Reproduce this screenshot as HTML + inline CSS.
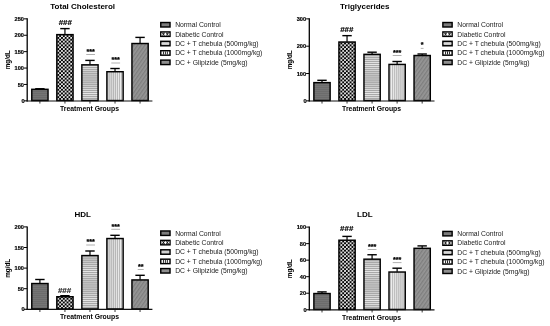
<!DOCTYPE html>
<html><head><meta charset="utf-8"><title>Lipid profile</title>
<style>html,body{margin:0;padding:0;background:#fff}svg{display:block}text{font-family:"Liberation Sans", Arial, sans-serif;fill:#000}</style>
</head><body>
<svg width="550" height="326" viewBox="0 0 550 326" style="filter:blur(0.3px)">
<rect width="550" height="326" fill="#fff"/>
<defs>
<pattern id="p1" width="2" height="2" patternUnits="userSpaceOnUse"><rect width="2" height="2" fill="#6c6c6c"/><rect width="2" height="1" fill="#757575"/></pattern>
<pattern id="p2" width="3.7" height="3.7" patternUnits="userSpaceOnUse"><rect width="3.7" height="3.7" fill="#000"/><circle cx="0.92" cy="0.92" r="1.0" fill="#fff"/><circle cx="2.77" cy="2.77" r="1.0" fill="#fff"/></pattern>
<pattern id="p3" width="4" height="2.07" patternUnits="userSpaceOnUse"><rect width="4" height="2.07" fill="#a8a8a8"/><rect width="4" height="0.7" fill="#e6e6e6"/></pattern>
<pattern id="p4" width="2.07" height="4" patternUnits="userSpaceOnUse"><rect width="2.07" height="4" fill="#b6b6b6"/><rect width="0.8" height="4" fill="#f4f4f4"/></pattern>
<pattern id="p5" width="4" height="3" patternUnits="userSpaceOnUse" patternTransform="rotate(-55)"><rect width="4" height="3" fill="#969696"/><rect width="4" height="1.3" fill="#7e7e7e"/></pattern>
</defs>
<g>
<text x="82.70" y="8.95" font-size="8.0" font-weight="bold" text-anchor="middle">Total Cholesterol</text>
<path d="M39.90 89.10V88.75" stroke="#000" stroke-width="1.2" fill="none"/>
<path d="M35.20 88.75H44.60" stroke="#000" stroke-width="1.4" fill="none"/>
<rect x="31.78" y="89.32" width="16.25" height="11.23" fill="url(#p1)" stroke="#000" stroke-width="1.45"/>
<path d="M39.90 100.85v2.7" stroke="#222" stroke-width="0.9"/>
<path d="M64.94 34.40V28.60" stroke="#000" stroke-width="1.2" fill="none"/>
<path d="M60.24 28.60H69.64" stroke="#000" stroke-width="1.4" fill="none"/>
<rect x="56.82" y="34.62" width="16.25" height="65.93" fill="url(#p2)" stroke="#000" stroke-width="1.45"/>
<path d="M64.94 100.85v2.7" stroke="#222" stroke-width="0.9"/>
<path d="M89.98 64.60V60.40" stroke="#000" stroke-width="1.2" fill="none"/>
<path d="M85.28 60.40H94.68" stroke="#000" stroke-width="1.4" fill="none"/>
<rect x="81.85" y="64.82" width="16.25" height="35.73" fill="url(#p3)" stroke="#000" stroke-width="1.45"/>
<path d="M89.98 100.85v2.7" stroke="#222" stroke-width="0.9"/>
<path d="M115.02 71.50V68.50" stroke="#000" stroke-width="1.2" fill="none"/>
<path d="M110.32 68.50H119.72" stroke="#000" stroke-width="1.4" fill="none"/>
<rect x="106.89" y="71.72" width="16.25" height="28.82" fill="url(#p4)" stroke="#000" stroke-width="1.45"/>
<path d="M115.02 100.85v2.7" stroke="#222" stroke-width="0.9"/>
<path d="M140.06 43.30V37.40" stroke="#000" stroke-width="1.2" fill="none"/>
<path d="M135.36 37.40H144.76" stroke="#000" stroke-width="1.4" fill="none"/>
<rect x="131.94" y="43.52" width="16.25" height="57.02" fill="url(#p5)" stroke="#000" stroke-width="1.45"/>
<path d="M140.06 100.85v2.7" stroke="#222" stroke-width="0.9"/>
<path d="M27.20 18.35V101.45" stroke="#000" stroke-width="1.3" fill="none"/>
<path d="M26.60 100.95H152.41" stroke="#111" stroke-width="1.15" fill="none"/>
<path d="M24.00 100.85H27.20" stroke="#000" stroke-width="1.0"/>
<text x="24.60" y="102.90" font-size="5.65" font-weight="bold" text-anchor="end" style="stroke:#000;stroke-width:0.18">0</text>
<path d="M24.00 84.45H27.20" stroke="#000" stroke-width="1.0"/>
<text x="24.00" y="86.50" font-size="5.65" font-weight="bold" text-anchor="end" style="stroke:#000;stroke-width:0.18">50</text>
<path d="M24.00 68.05H27.20" stroke="#000" stroke-width="1.0"/>
<text x="24.00" y="70.10" font-size="5.65" font-weight="bold" text-anchor="end" style="stroke:#000;stroke-width:0.18">100</text>
<path d="M24.00 51.65H27.20" stroke="#000" stroke-width="1.0"/>
<text x="24.00" y="53.70" font-size="5.65" font-weight="bold" text-anchor="end" style="stroke:#000;stroke-width:0.18">150</text>
<path d="M24.00 35.25H27.20" stroke="#000" stroke-width="1.0"/>
<text x="24.00" y="37.30" font-size="5.65" font-weight="bold" text-anchor="end" style="stroke:#000;stroke-width:0.18">200</text>
<path d="M24.00 18.85H27.20" stroke="#000" stroke-width="1.0"/>
<text x="24.00" y="20.90" font-size="5.65" font-weight="bold" text-anchor="end" style="stroke:#000;stroke-width:0.18">250</text>
<text transform="translate(10.00 59.85) rotate(-90)" font-size="6.3" font-weight="bold" text-anchor="middle">mg/dL</text>
<text x="89.50" y="110.75" font-size="6.85" font-weight="bold" text-anchor="middle">Treatment Groups</text>
<text x="65.34" y="25.00" font-size="7.95" font-weight="bold" text-anchor="middle" style="fill:#000;stroke:#000;stroke-width:0.2">###</text>
<text x="90.63" y="53.50" font-size="7.2" font-weight="bold" text-anchor="middle" style="fill:#000;stroke:#000;stroke-width:0.25">***</text>
<path d="M86.23 54.50H95.03" stroke="#a8a8a8" stroke-width="0.9"/>
<text x="115.67" y="61.70" font-size="7.2" font-weight="bold" text-anchor="middle" style="fill:#000;stroke:#000;stroke-width:0.25">***</text>
<path d="M111.27 63.00H120.07" stroke="#a8a8a8" stroke-width="0.9"/>
<rect x="160.77" y="22.53" width="9.25" height="4.45" fill="#7c7c7c" stroke="#000" stroke-width="1.45"/>
<text x="175.15" y="27.15" font-size="6.8" style="fill:#222">Normal Control</text>
<rect x="160.77" y="31.93" width="9.25" height="4.45" fill="#fff" stroke="#000" stroke-width="1.45"/>
<rect x="161.50" y="32.65" width="7.80" height="3.00" fill="#000"/>
<path d="M161.50 32.65L163.10 34.15L161.50 35.65ZM165.40 32.45L166.95 34.15L165.40 35.85L163.85 34.15ZM169.30 32.65L167.70 34.15L169.30 35.65Z" fill="#fff"/>
<path d="M162.00 32.65L163.45 33.70L164.90 32.65ZM162.00 35.65L163.45 34.60L164.90 35.65ZM165.90 32.65L167.35 33.70L168.80 32.65ZM165.90 35.65L167.35 34.60L168.80 35.65Z" fill="#fff" opacity="0.4"/>
<text x="175.15" y="36.55" font-size="6.8" style="fill:#222">Diabetic Control</text>
<rect x="160.77" y="41.32" width="9.25" height="4.45" fill="#c6c6c6" stroke="#000" stroke-width="1.45"/>
<path d="M161.50 43.55h7.80" stroke="#e2e2e2" stroke-width="0.7"/>
<text x="175.15" y="45.95" font-size="6.8" style="fill:#222">DC + T chebula (500mg/kg)</text>
<rect x="160.77" y="50.73" width="9.25" height="4.45" fill="#fff" stroke="#000" stroke-width="1.45"/>
<path d="M163.45 51.45v3.00M165.40 51.45v3.00M167.35 51.45v3.00" stroke="#000" stroke-width="0.85" fill="none"/>
<text x="175.15" y="55.35" font-size="6.8" style="fill:#222">DC + T chebula (1000mg/kg)</text>
<rect x="160.77" y="60.12" width="9.25" height="4.45" fill="#8e8e8e" stroke="#000" stroke-width="1.45"/>
<text x="175.15" y="64.75" font-size="6.8" style="fill:#222">DC + Glipizide (5mg/kg)</text>
</g>
<g>
<text x="364.80" y="8.95" font-size="8.0" font-weight="bold" text-anchor="middle">Triglycerides</text>
<path d="M322.00 82.40V80.30" stroke="#000" stroke-width="1.2" fill="none"/>
<path d="M317.30 80.30H326.70" stroke="#000" stroke-width="1.4" fill="none"/>
<rect x="313.88" y="82.62" width="16.25" height="17.92" fill="url(#p1)" stroke="#000" stroke-width="1.45"/>
<path d="M322.00 100.85v2.7" stroke="#222" stroke-width="0.9"/>
<path d="M347.04 41.80V35.65" stroke="#000" stroke-width="1.2" fill="none"/>
<path d="M342.34 35.65H351.74" stroke="#000" stroke-width="1.4" fill="none"/>
<rect x="338.92" y="42.02" width="16.25" height="58.52" fill="url(#p2)" stroke="#000" stroke-width="1.45"/>
<path d="M347.04 100.85v2.7" stroke="#222" stroke-width="0.9"/>
<path d="M372.08 54.10V52.20" stroke="#000" stroke-width="1.2" fill="none"/>
<path d="M367.38 52.20H376.78" stroke="#000" stroke-width="1.4" fill="none"/>
<rect x="363.96" y="54.33" width="16.25" height="46.22" fill="url(#p3)" stroke="#000" stroke-width="1.45"/>
<path d="M372.08 100.85v2.7" stroke="#222" stroke-width="0.9"/>
<path d="M397.12 64.20V61.50" stroke="#000" stroke-width="1.2" fill="none"/>
<path d="M392.42 61.50H401.82" stroke="#000" stroke-width="1.4" fill="none"/>
<rect x="389.00" y="64.42" width="16.25" height="36.12" fill="url(#p4)" stroke="#000" stroke-width="1.45"/>
<path d="M397.12 100.85v2.7" stroke="#222" stroke-width="0.9"/>
<path d="M422.16 55.30V54.00" stroke="#000" stroke-width="1.2" fill="none"/>
<path d="M417.46 54.00H426.86" stroke="#000" stroke-width="1.4" fill="none"/>
<rect x="414.04" y="55.52" width="16.25" height="45.02" fill="url(#p5)" stroke="#000" stroke-width="1.45"/>
<path d="M422.16 100.85v2.7" stroke="#222" stroke-width="0.9"/>
<path d="M309.30 18.36V101.45" stroke="#000" stroke-width="1.3" fill="none"/>
<path d="M308.70 100.95H434.51" stroke="#111" stroke-width="1.15" fill="none"/>
<path d="M306.10 100.85H309.30" stroke="#000" stroke-width="1.0"/>
<text x="306.70" y="102.90" font-size="5.65" font-weight="bold" text-anchor="end" style="stroke:#000;stroke-width:0.18">0</text>
<path d="M306.10 73.52H309.30" stroke="#000" stroke-width="1.0"/>
<text x="306.10" y="75.57" font-size="5.65" font-weight="bold" text-anchor="end" style="stroke:#000;stroke-width:0.18">100</text>
<path d="M306.10 46.19H309.30" stroke="#000" stroke-width="1.0"/>
<text x="306.10" y="48.24" font-size="5.65" font-weight="bold" text-anchor="end" style="stroke:#000;stroke-width:0.18">200</text>
<path d="M306.10 18.86H309.30" stroke="#000" stroke-width="1.0"/>
<text x="306.10" y="20.91" font-size="5.65" font-weight="bold" text-anchor="end" style="stroke:#000;stroke-width:0.18">300</text>
<text transform="translate(292.10 59.85) rotate(-90)" font-size="6.3" font-weight="bold" text-anchor="middle">mg/dL</text>
<text x="371.60" y="110.75" font-size="6.85" font-weight="bold" text-anchor="middle">Treatment Groups</text>
<text x="346.79" y="32.00" font-size="7.95" font-weight="bold" text-anchor="middle" style="fill:#000;stroke:#000;stroke-width:0.2">###</text>
<text x="397.12" y="55.00" font-size="7.2" font-weight="bold" text-anchor="middle" style="fill:#000;stroke:#000;stroke-width:0.25">***</text>
<path d="M392.72 55.50H401.52" stroke="#a8a8a8" stroke-width="0.9"/>
<text x="422.16" y="47.30" font-size="7.2" font-weight="bold" text-anchor="middle" style="fill:#000;stroke:#000;stroke-width:0.25">*</text>
<path d="M420.76 48.40H423.56" stroke="#a8a8a8" stroke-width="0.9"/>
<rect x="442.88" y="22.53" width="9.25" height="4.45" fill="#7c7c7c" stroke="#000" stroke-width="1.45"/>
<text x="457.25" y="27.15" font-size="6.8" style="fill:#222">Normal Control</text>
<rect x="442.88" y="31.93" width="9.25" height="4.45" fill="#fff" stroke="#000" stroke-width="1.45"/>
<rect x="443.60" y="32.65" width="7.80" height="3.00" fill="#000"/>
<path d="M443.60 32.65L445.20 34.15L443.60 35.65ZM447.50 32.45L449.05 34.15L447.50 35.85L445.95 34.15ZM451.40 32.65L449.80 34.15L451.40 35.65Z" fill="#fff"/>
<path d="M444.10 32.65L445.55 33.70L447.00 32.65ZM444.10 35.65L445.55 34.60L447.00 35.65ZM448.00 32.65L449.45 33.70L450.90 32.65ZM448.00 35.65L449.45 34.60L450.90 35.65Z" fill="#fff" opacity="0.4"/>
<text x="457.25" y="36.55" font-size="6.8" style="fill:#222">Diabetic Control</text>
<rect x="442.88" y="41.32" width="9.25" height="4.45" fill="#c6c6c6" stroke="#000" stroke-width="1.45"/>
<path d="M443.60 43.55h7.80" stroke="#e2e2e2" stroke-width="0.7"/>
<text x="457.25" y="45.95" font-size="6.8" style="fill:#222">DC + T chebula (500mg/kg)</text>
<rect x="442.88" y="50.73" width="9.25" height="4.45" fill="#fff" stroke="#000" stroke-width="1.45"/>
<path d="M445.55 51.45v3.00M447.50 51.45v3.00M449.45 51.45v3.00" stroke="#000" stroke-width="0.85" fill="none"/>
<text x="457.25" y="55.35" font-size="6.8" style="fill:#222">DC + T chebula (1000mg/kg)</text>
<rect x="442.88" y="60.12" width="9.25" height="4.45" fill="#8e8e8e" stroke="#000" stroke-width="1.45"/>
<text x="457.25" y="64.75" font-size="6.8" style="fill:#222">DC + Glipizide (5mg/kg)</text>
</g>
<g>
<text x="82.70" y="217.40" font-size="8.0" font-weight="bold" text-anchor="middle">HDL</text>
<path d="M39.90 283.30V279.50" stroke="#000" stroke-width="1.2" fill="none"/>
<path d="M35.20 279.50H44.60" stroke="#000" stroke-width="1.4" fill="none"/>
<rect x="31.78" y="283.53" width="16.25" height="25.47" fill="url(#p1)" stroke="#000" stroke-width="1.45"/>
<path d="M39.90 309.30v2.7" stroke="#222" stroke-width="0.9"/>
<path d="M64.94 296.50V295.70" stroke="#000" stroke-width="1.2" fill="none"/>
<path d="M60.24 295.70H69.64" stroke="#000" stroke-width="1.4" fill="none"/>
<rect x="56.82" y="296.73" width="16.25" height="12.28" fill="url(#p2)" stroke="#000" stroke-width="1.45"/>
<path d="M64.94 309.30v2.7" stroke="#222" stroke-width="0.9"/>
<path d="M89.98 255.35V251.00" stroke="#000" stroke-width="1.2" fill="none"/>
<path d="M85.28 251.00H94.68" stroke="#000" stroke-width="1.4" fill="none"/>
<rect x="81.85" y="255.57" width="16.25" height="53.43" fill="url(#p3)" stroke="#000" stroke-width="1.45"/>
<path d="M89.98 309.30v2.7" stroke="#222" stroke-width="0.9"/>
<path d="M115.02 238.30V235.30" stroke="#000" stroke-width="1.2" fill="none"/>
<path d="M110.32 235.30H119.72" stroke="#000" stroke-width="1.4" fill="none"/>
<rect x="106.89" y="238.53" width="16.25" height="70.47" fill="url(#p4)" stroke="#000" stroke-width="1.45"/>
<path d="M115.02 309.30v2.7" stroke="#222" stroke-width="0.9"/>
<path d="M140.06 279.70V275.30" stroke="#000" stroke-width="1.2" fill="none"/>
<path d="M135.36 275.30H144.76" stroke="#000" stroke-width="1.4" fill="none"/>
<rect x="131.94" y="279.93" width="16.25" height="29.08" fill="url(#p5)" stroke="#000" stroke-width="1.45"/>
<path d="M140.06 309.30v2.7" stroke="#222" stroke-width="0.9"/>
<path d="M27.20 226.40V309.90" stroke="#000" stroke-width="1.3" fill="none"/>
<path d="M26.60 309.40H152.41" stroke="#111" stroke-width="1.15" fill="none"/>
<path d="M24.00 309.30H27.20" stroke="#000" stroke-width="1.0"/>
<text x="24.60" y="311.35" font-size="5.65" font-weight="bold" text-anchor="end" style="stroke:#000;stroke-width:0.18">0</text>
<path d="M24.00 288.70H27.20" stroke="#000" stroke-width="1.0"/>
<text x="24.00" y="290.75" font-size="5.65" font-weight="bold" text-anchor="end" style="stroke:#000;stroke-width:0.18">50</text>
<path d="M24.00 268.10H27.20" stroke="#000" stroke-width="1.0"/>
<text x="24.00" y="270.15" font-size="5.65" font-weight="bold" text-anchor="end" style="stroke:#000;stroke-width:0.18">100</text>
<path d="M24.00 247.50H27.20" stroke="#000" stroke-width="1.0"/>
<text x="24.00" y="249.55" font-size="5.65" font-weight="bold" text-anchor="end" style="stroke:#000;stroke-width:0.18">150</text>
<path d="M24.00 226.90H27.20" stroke="#000" stroke-width="1.0"/>
<text x="24.00" y="228.95" font-size="5.65" font-weight="bold" text-anchor="end" style="stroke:#000;stroke-width:0.18">200</text>
<text transform="translate(10.00 268.30) rotate(-90)" font-size="6.3" font-weight="bold" text-anchor="middle">mg/dL</text>
<text x="89.50" y="319.20" font-size="6.85" font-weight="bold" text-anchor="middle">Treatment Groups</text>
<text x="64.54" y="293.00" font-size="7.95" font-weight="bold" text-anchor="middle" style="fill:#2a2a2a;stroke:#2a2a2a;stroke-width:0.2">###</text>
<text x="90.63" y="244.00" font-size="7.2" font-weight="bold" text-anchor="middle" style="fill:#000;stroke:#000;stroke-width:0.25">***</text>
<path d="M86.23 245.00H95.03" stroke="#a8a8a8" stroke-width="0.9"/>
<text x="115.67" y="228.60" font-size="7.2" font-weight="bold" text-anchor="middle" style="fill:#000;stroke:#000;stroke-width:0.25">***</text>
<path d="M111.27 229.30H120.07" stroke="#a8a8a8" stroke-width="0.9"/>
<text x="140.71" y="268.50" font-size="7.2" font-weight="bold" text-anchor="middle" style="fill:#000;stroke:#000;stroke-width:0.25">**</text>
<path d="M137.71 269.50H143.71" stroke="#a8a8a8" stroke-width="0.9"/>
<rect x="160.77" y="230.98" width="9.25" height="4.45" fill="#7c7c7c" stroke="#000" stroke-width="1.45"/>
<text x="175.15" y="235.60" font-size="6.8" style="fill:#222">Normal Control</text>
<rect x="160.77" y="240.38" width="9.25" height="4.45" fill="#fff" stroke="#000" stroke-width="1.45"/>
<rect x="161.50" y="241.10" width="7.80" height="3.00" fill="#000"/>
<path d="M161.50 241.10L163.10 242.60L161.50 244.10ZM165.40 240.90L166.95 242.60L165.40 244.30L163.85 242.60ZM169.30 241.10L167.70 242.60L169.30 244.10Z" fill="#fff"/>
<path d="M162.00 241.10L163.45 242.15L164.90 241.10ZM162.00 244.10L163.45 243.05L164.90 244.10ZM165.90 241.10L167.35 242.15L168.80 241.10ZM165.90 244.10L167.35 243.05L168.80 244.10Z" fill="#fff" opacity="0.4"/>
<text x="175.15" y="245.00" font-size="6.8" style="fill:#222">Diabetic Control</text>
<rect x="160.77" y="249.78" width="9.25" height="4.45" fill="#c6c6c6" stroke="#000" stroke-width="1.45"/>
<path d="M161.50 252.00h7.80" stroke="#e2e2e2" stroke-width="0.7"/>
<text x="175.15" y="254.40" font-size="6.8" style="fill:#222">DC + T chebula (500mg/kg)</text>
<rect x="160.77" y="259.18" width="9.25" height="4.45" fill="#fff" stroke="#000" stroke-width="1.45"/>
<path d="M163.45 259.90v3.00M165.40 259.90v3.00M167.35 259.90v3.00" stroke="#000" stroke-width="0.85" fill="none"/>
<text x="175.15" y="263.80" font-size="6.8" style="fill:#222">DC + T chebula (1000mg/kg)</text>
<rect x="160.77" y="268.58" width="9.25" height="4.45" fill="#8e8e8e" stroke="#000" stroke-width="1.45"/>
<text x="175.15" y="273.20" font-size="6.8" style="fill:#222">DC + Glipizide (5mg/kg)</text>
</g>
<g>
<text x="364.80" y="217.35" font-size="8.0" font-weight="bold" text-anchor="middle">LDL</text>
<path d="M322.00 293.30V291.90" stroke="#000" stroke-width="1.2" fill="none"/>
<path d="M317.30 291.90H326.70" stroke="#000" stroke-width="1.4" fill="none"/>
<rect x="313.88" y="293.53" width="16.25" height="15.92" fill="url(#p1)" stroke="#000" stroke-width="1.45"/>
<path d="M322.00 309.75v2.7" stroke="#222" stroke-width="0.9"/>
<path d="M347.04 240.00V236.40" stroke="#000" stroke-width="1.2" fill="none"/>
<path d="M342.34 236.40H351.74" stroke="#000" stroke-width="1.4" fill="none"/>
<rect x="338.92" y="240.22" width="16.25" height="69.22" fill="url(#p2)" stroke="#000" stroke-width="1.45"/>
<path d="M347.04 309.75v2.7" stroke="#222" stroke-width="0.9"/>
<path d="M372.08 258.95V254.75" stroke="#000" stroke-width="1.2" fill="none"/>
<path d="M367.38 254.75H376.78" stroke="#000" stroke-width="1.4" fill="none"/>
<rect x="363.96" y="259.18" width="16.25" height="50.27" fill="url(#p3)" stroke="#000" stroke-width="1.45"/>
<path d="M372.08 309.75v2.7" stroke="#222" stroke-width="0.9"/>
<path d="M397.12 271.80V268.20" stroke="#000" stroke-width="1.2" fill="none"/>
<path d="M392.42 268.20H401.82" stroke="#000" stroke-width="1.4" fill="none"/>
<rect x="389.00" y="272.03" width="16.25" height="37.42" fill="url(#p4)" stroke="#000" stroke-width="1.45"/>
<path d="M397.12 309.75v2.7" stroke="#222" stroke-width="0.9"/>
<path d="M422.16 248.10V245.90" stroke="#000" stroke-width="1.2" fill="none"/>
<path d="M417.46 245.90H426.86" stroke="#000" stroke-width="1.4" fill="none"/>
<rect x="414.04" y="248.32" width="16.25" height="61.12" fill="url(#p5)" stroke="#000" stroke-width="1.45"/>
<path d="M422.16 309.75v2.7" stroke="#222" stroke-width="0.9"/>
<path d="M309.30 226.60V310.35" stroke="#000" stroke-width="1.3" fill="none"/>
<path d="M308.70 309.85H434.51" stroke="#111" stroke-width="1.15" fill="none"/>
<path d="M306.10 309.75H309.30" stroke="#000" stroke-width="1.0"/>
<text x="306.70" y="311.80" font-size="5.65" font-weight="bold" text-anchor="end" style="stroke:#000;stroke-width:0.18">0</text>
<path d="M306.10 293.22H309.30" stroke="#000" stroke-width="1.0"/>
<text x="306.10" y="295.27" font-size="5.65" font-weight="bold" text-anchor="end" style="stroke:#000;stroke-width:0.18">20</text>
<path d="M306.10 276.69H309.30" stroke="#000" stroke-width="1.0"/>
<text x="306.10" y="278.74" font-size="5.65" font-weight="bold" text-anchor="end" style="stroke:#000;stroke-width:0.18">40</text>
<path d="M306.10 260.16H309.30" stroke="#000" stroke-width="1.0"/>
<text x="306.10" y="262.21" font-size="5.65" font-weight="bold" text-anchor="end" style="stroke:#000;stroke-width:0.18">60</text>
<path d="M306.10 243.63H309.30" stroke="#000" stroke-width="1.0"/>
<text x="306.10" y="245.68" font-size="5.65" font-weight="bold" text-anchor="end" style="stroke:#000;stroke-width:0.18">80</text>
<path d="M306.10 227.10H309.30" stroke="#000" stroke-width="1.0"/>
<text x="306.10" y="229.15" font-size="5.65" font-weight="bold" text-anchor="end" style="stroke:#000;stroke-width:0.18">100</text>
<text transform="translate(292.10 268.75) rotate(-90)" font-size="6.3" font-weight="bold" text-anchor="middle">mg/dL</text>
<text x="371.60" y="319.65" font-size="6.85" font-weight="bold" text-anchor="middle">Treatment Groups</text>
<text x="346.74" y="231.00" font-size="7.95" font-weight="bold" text-anchor="middle" style="fill:#000;stroke:#000;stroke-width:0.2">###</text>
<text x="372.08" y="249.00" font-size="7.2" font-weight="bold" text-anchor="middle" style="fill:#000;stroke:#000;stroke-width:0.25">***</text>
<path d="M367.68 249.50H376.48" stroke="#a8a8a8" stroke-width="0.9"/>
<text x="397.12" y="261.70" font-size="7.2" font-weight="bold" text-anchor="middle" style="fill:#000;stroke:#000;stroke-width:0.25">***</text>
<path d="M392.72 262.60H401.52" stroke="#a8a8a8" stroke-width="0.9"/>
<rect x="442.88" y="231.43" width="9.25" height="4.45" fill="#7c7c7c" stroke="#000" stroke-width="1.45"/>
<text x="457.25" y="236.05" font-size="6.8" style="fill:#222">Normal Control</text>
<rect x="442.88" y="240.83" width="9.25" height="4.45" fill="#fff" stroke="#000" stroke-width="1.45"/>
<rect x="443.60" y="241.55" width="7.80" height="3.00" fill="#000"/>
<path d="M443.60 241.55L445.20 243.05L443.60 244.55ZM447.50 241.35L449.05 243.05L447.50 244.75L445.95 243.05ZM451.40 241.55L449.80 243.05L451.40 244.55Z" fill="#fff"/>
<path d="M444.10 241.55L445.55 242.60L447.00 241.55ZM444.10 244.55L445.55 243.50L447.00 244.55ZM448.00 241.55L449.45 242.60L450.90 241.55ZM448.00 244.55L449.45 243.50L450.90 244.55Z" fill="#fff" opacity="0.4"/>
<text x="457.25" y="245.45" font-size="6.8" style="fill:#222">Diabetic Control</text>
<rect x="442.88" y="250.23" width="9.25" height="4.45" fill="#c6c6c6" stroke="#000" stroke-width="1.45"/>
<path d="M443.60 252.45h7.80" stroke="#e2e2e2" stroke-width="0.7"/>
<text x="457.25" y="254.85" font-size="6.8" style="fill:#222">DC + T chebula (500mg/kg)</text>
<rect x="442.88" y="259.63" width="9.25" height="4.45" fill="#fff" stroke="#000" stroke-width="1.45"/>
<path d="M445.55 260.35v3.00M447.50 260.35v3.00M449.45 260.35v3.00" stroke="#000" stroke-width="0.85" fill="none"/>
<text x="457.25" y="264.25" font-size="6.8" style="fill:#222">DC + T chebula (1000mg/kg)</text>
<rect x="442.88" y="269.03" width="9.25" height="4.45" fill="#8e8e8e" stroke="#000" stroke-width="1.45"/>
<text x="457.25" y="273.65" font-size="6.8" style="fill:#222">DC + Glipizide (5mg/kg)</text>
</g>
</svg>
</body></html>
